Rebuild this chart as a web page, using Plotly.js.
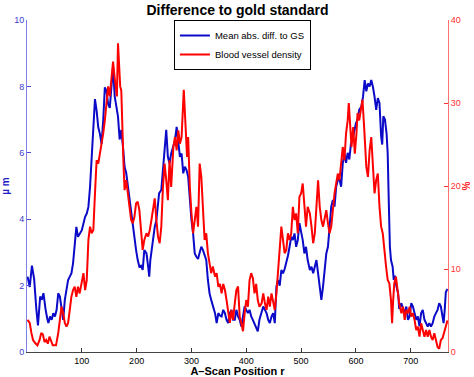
<!DOCTYPE html>
<html><head><meta charset="utf-8">
<script src="https://cdn.plot.ly/plotly-3.0.1.min.js"></script>
<style>html,body{margin:0;padding:0;background:#fff}#chart{width:474px;height:377px}</style>
</head><body><div id="chart"></div>
<script>
// Mean abs. diff. to GS (µm, left axis)
const blueX = [1,5,9,13,17,20,24,27,30,32,34,37,39,42,45,48,51,54,57,60,63,66,69,72,75,78,81,84,87,90,93,96,100,103,106,109,112,115,118,121,124,127,130,133,136,139,142,145,148,151,154,157,160,163,166,169,172,175,178,181,184,187,190,193,196,199,202,205,208,211,214,218,221,223,225,229,233,236,241,245,248,251,254,257,260,263,267,270,273,276,279,282,285,288,291,294,297,300,303,306,309,312,315,318,321,324,327,330,333,336,339,343,346,349,352,355,358,361,364,367,370,373,376,379,382,385,388,391,394,397,400,403,406,409,412,415,418,421,424,428,431,434,437,440,443,446,449,452,455,458,461,464,467,470,473,476,479,482,485,488,491,494,497,500,503,506,509,512,516,519,522,525,528,531,534,537,540,543,546,549,552,555,558,561,564,567,570,573,576,579,582,585,588,591,594,597,600,603,606,610,613,616,619,622,625,628,631,634,637,640,643,646,648,650,653,656,658,660,662,664,667,669,671,674,677,679,683,686,689,692,695,698,701,704,707,710,713,716,719,722,725,728,731,734,737,740,743,746,749,752,755,758,760,762,764,767];
const blueY = [2.27,1.96,2.6,2.2,1.3,0.8,1.67,1.57,1.77,1.47,1.27,1.0,0.87,1.07,0.97,1.17,1.07,1.27,1.77,1.67,1.27,0.97,1.57,1.87,2.17,2.27,2.37,2.67,3.17,3.77,3.47,3.57,3.67,3.87,4.07,4.17,4.37,4.97,5.97,6.97,7.62,7.27,6.77,6.57,6.27,6.97,7.97,7.87,7.47,7.35,7.9,8.6,7.7,7.4,7.09,6.4,6.69,6.2,5.58,5.39,5.0,4.58,4.18,3.77,3.37,3.07,2.77,2.57,2.6,2.47,3.07,2.97,2.57,2.27,2.77,3.37,3.77,3.97,4.78,4.88,5.48,6.18,6.69,5.88,5.68,5.98,6.18,6.38,6.78,6.28,5.88,5.98,5.38,5.58,5.48,5.28,4.48,3.98,3.57,2.97,2.87,2.8,3.0,3.17,3.07,2.9,2.77,2.17,1.77,1.57,1.37,1.17,0.87,1.17,1.1,1.07,1.27,1.17,0.97,0.87,1.17,1.27,0.97,0.97,1.27,1.07,0.97,0.77,1.07,1.37,1.27,1.17,1.27,1.07,0.97,0.87,0.77,0.62,0.97,1.17,1.37,1.27,1.17,0.97,0.87,1.07,1.17,0.87,1.97,2.17,2.0,2.47,2.37,2.5,2.67,2.9,3.17,3.47,3.37,3.57,3.17,3.37,3.88,3.67,3.37,2.97,3.17,2.77,2.47,2.57,2.37,2.57,2.77,2.37,1.97,1.57,1.97,2.57,2.97,3.17,3.77,4.38,4.58,4.38,4.98,5.18,5.2,4.98,5.68,5.98,5.7,6.0,5.8,6.28,6.4,6.69,6.89,7.0,7.29,7.39,7.69,8.19,7.85,8.09,8.0,8.19,7.99,7.69,7.29,7.65,7.5,6.5,6.25,7.1,7.0,6.57,5.98,4.5,3.17,2.77,2.57,2.17,2.3,1.97,1.77,1.3,1.47,1.3,1.17,1.37,0.97,1.07,1.47,1.37,1.17,0.97,1.07,0.77,1.17,1.27,0.97,0.87,0.77,0.87,0.77,0.87,1.07,1.17,1.27,1.47,1.37,1.07,0.87,1.27,1.8,1.9];
// Blood vessel density (%, right axis)
const redX = [1,5,8,11,15,19,23,26,29,32,35,38,41,44,47,50,53,57,60,63,66,69,72,75,78,81,84,87,90,93,96,100,103,106,109,112,115,118,121,124,127,130,133,136,139,142,145,148,151,154,157,160,162,164,166,168,170,172,174,176,178,181,184,187,190,193,196,199,202,205,208,211,214,218,221,224,227,230,233,236,239,242,245,248,251,254,257,260,263,267,270,273,276,279,282,286,290,292,294,297,300,303,306,309,312,315,318,321,324,327,330,333,336,339,343,346,349,352,355,358,361,364,367,370,373,376,379,382,385,388,391,394,397,400,403,406,409,412,415,418,421,424,428,431,434,437,440,443,446,449,452,455,458,461,464,467,470,473,476,479,482,485,488,491,494,497,500,503,506,509,512,516,519,522,525,528,531,534,537,540,543,546,549,552,555,558,561,564,567,570,573,576,579,582,585,587,589,592,595,598,601,603,606,609,612,615,617,619,622,625,628,631,634,637,640,643,646,649,652,655,658,661,664,666,668,670,673,676,679,683,686,689,692,695,698,701,704,707,710,713,716,719,722,725,728,731,734,737,740,743,746,749,752,755,758,761,764,767];
const redY = [3.86,3.5,2.3,1.45,1.08,0.8,1.45,2.3,2.1,1.2,1.45,1.0,1.85,1.4,0.8,0.8,0.8,2.3,4.26,5.46,4.66,3.5,3.06,3.5,5.06,6.66,7.46,7.87,6.66,7.87,7.06,8.27,9.5,7.46,8.67,13.5,15.1,14.3,14.7,19.1,23.1,22.7,23.9,24.7,26.3,27.9,30.0,32.0,30.8,32.8,35.0,33.0,31.5,30.8,37.2,34.4,32.0,31.5,25.9,22.7,19.5,20.7,19.1,17.5,15.9,15.5,16.3,17.9,18.1,17.1,14.3,12.3,13.5,14.3,13.9,14.7,15.9,17.5,18.5,15.9,13.9,13.1,15.1,19.9,22.7,20.7,18.3,23.1,19.9,24.7,25.9,24.3,26.7,25.1,25.9,31.6,27.1,23.5,25.9,19.9,16.7,14.3,15.9,17.5,15.1,22.7,21.1,17.5,13.5,14.3,11.9,10.7,9.5,10.3,9.1,9.5,7.87,8.2,7.06,8.2,7.5,6.26,4.66,3.5,5.06,3.86,5.86,7.46,7.9,4.26,3.46,2.5,4.66,6.26,5.46,8.67,9.5,8.9,7.06,8.2,6.26,5.46,5.86,7.06,5.86,5.06,6.66,5.46,7.06,5.86,5.06,7.06,9.5,11.9,15.1,13.5,11.9,12.3,14.3,13.5,14.3,17.5,15.9,16.7,14.3,18.7,19.1,20.3,17.5,15.1,17.5,16.7,15.1,13.1,14.3,17.5,20.7,17.5,15.9,15.1,16.3,17.1,15.5,14.3,15.1,17.5,19.1,20.3,21.5,20.7,23.1,24.7,23.1,26.3,27.9,30.0,27.9,24.7,27.1,23.9,26.3,28.8,27.9,29.0,30.4,27.1,24.7,22.3,21.1,24.3,25.9,21.9,19.1,20.7,21.5,17.5,15.1,14.3,11.9,10.3,8.67,8.27,6.26,3.46,6.26,8.27,9.07,7.46,5.86,4.66,5.46,3.86,5.06,4.66,5.46,4.26,4.66,3.86,2.65,3.06,1.85,3.46,2.65,1.85,2.65,1.85,2.65,1.85,1.45,2.25,1.45,0.6,0.4,1.45,1.65,2.25,3.06,3.8];
const leftTicks = [0,2,4,6,8,10];
const rightTicks = [0,10,20,30,40];
const xTicks = [100,200,300,400,500,600,700];

const FONT = 'Liberation Sans, Arial, Helvetica, sans-serif';
const traces = [
  {x: blueX, y: blueY, type: 'scatter', mode: 'lines', name: 'Mean abs. diff. to GS',
   line: {color: '#0a0ac8', width: 2}, yaxis: 'y'},
  {x: redX, y: redY, type: 'scatter', mode: 'lines', name: 'Blood vessel density',
   line: {color: '#ff0000', width: 2}, yaxis: 'y2'}
];
const layout = {
  width: 474, height: 377,
  margin: {l: 27, r: 26, t: 20, b: 25, pad: 0},
  paper_bgcolor: '#fff', plot_bgcolor: '#fff',
  font: {family: FONT, size: 9, color: '#000'},
  showlegend: true,
  title: {text: '<b>Difference to gold standard</b>', font: {family: FONT, size: 14, color: '#000'},
          x: 0.5, xref: 'paper', y: 0.972, yref: 'container', yanchor: 'middle'},
  xaxis: {range: [0, 768], tickvals: xTicks, ticks: 'inside', ticklen: 4, tickcolor: '#333',
          showline: true, linecolor: '#444', linewidth: 1, showgrid: false, zeroline: false,
          tickfont: {size: 9, color: '#000'},
          title: {text: '<b>A–Scan Position r</b>', font: {size: 11, color: '#000'}, standoff: 1}},
  yaxis: {range: [0, 10], tickvals: leftTicks, ticks: 'inside', ticklen: 4, tickcolor: '#4a4ad8',
          showline: true, linecolor: '#8080e8', linewidth: 1, showgrid: false, zeroline: false,
          tickfont: {size: 9, color: '#3c3cd0'},
          title: {text: '<b>µ m</b>', font: {size: 10, color: '#2020c8'}, standoff: 2}},
  yaxis2: {range: [0, 40], tickvals: rightTicks, overlaying: 'y', side: 'right', anchor: 'x',
           ticks: 'inside', ticklen: 4, tickcolor: '#ff3030',
           showline: true, linecolor: '#ff7070', linewidth: 1, showgrid: false, zeroline: false,
           tickfont: {size: 9, color: '#ff3030'},
           title: {text: '<b>%</b>', font: {size: 10, color: '#ff2020'}, standoff: 2}},
  legend: {x: 0.349, y: 1.0, xanchor: 'left', yanchor: 'top', bgcolor: '#fff',
           bordercolor: '#000', borderwidth: 1, font: {size: 9.5, color: '#000'},
           tracegroupgap: 0, itemwidth: 30}
};
Plotly.newPlot('chart', traces, layout, {displayModeBar: false, staticPlot: true});
</script></body></html>
